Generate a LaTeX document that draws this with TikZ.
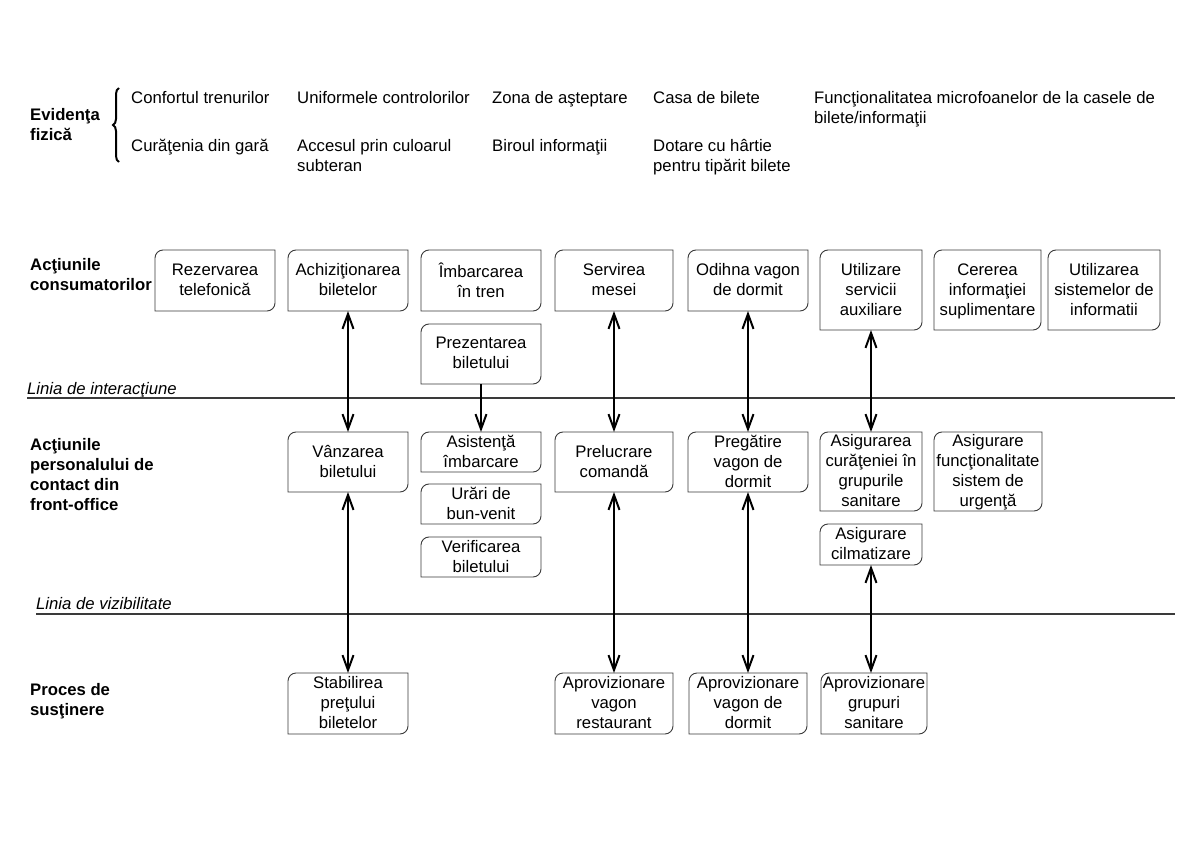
\documentclass[tikz,border=0pt]{standalone}
\usepackage{fontspec}
\setmainfont{Liberation Sans}
\usetikzlibrary{arrows.meta,decorations.pathreplacing}
\newcommand\bxfont{\fontsize{16.7}{20}\selectfont}
\newcommand\topstrut{\rule{0pt}{15.5pt}}
\newcommand\botstrut{\rule[-6.5pt]{0pt}{6.5pt}}
\definecolor{outl}{HTML}{3A3A3A}
\begin{document}
\begin{tikzpicture}[x=1pt,y=1pt,
  bx/.style 2 args={minimum width=#1pt, minimum height=#2pt, inner sep=0pt, outer sep=0pt},
  lbl/.style={align=center, font=\bxfont, inner sep=0pt, text=black, yshift=-2.5pt,
    execute at begin node=\topstrut, execute at end node=\botstrut},
  sect/.style={align=left, font=\bxfont\bfseries, inner sep=0pt, anchor=north west,
    execute at begin node=\topstrut},
  ev/.style={align=left, font=\bxfont, inner sep=0pt, anchor=north west,
    execute at begin node=\topstrut},
  lineLabel/.style={font=\bxfont\itshape, inner sep=0pt, anchor=base west},
  hline/.style={line width=1.1pt, color=outl},
  boxline/.style={line width=0.9pt, color=outl},
  arr/.style={line width=2pt, black, >={Straight Barb[length=15pt,width=11pt]}}
]
\useasboundingbox (0,0) rectangle (1200,-848);

% ---------- Evidenta fizica ----------
\node[sect] (evid) at (30,-108) {Eviden\c{t}a\\fizic\u{a}};
\coordinate (brb) at (119,-162);
\coordinate (brt) at (119,-88);
\draw[line width=2pt, decorate, decoration={brace, amplitude=6pt}] (brb) -- (brt);

\node[ev] (e1) at (131,-87.5) {Confortul trenurilor};
\node[ev] (e2) at (297,-87.5) {Uniformele controlorilor};
\node[ev] (e3) at (492,-87.5) {Zona de a\c{s}teptare};
\node[ev] (e4) at (653,-87.5) {Casa de bilete};
\node[ev] (e5) at (814,-91.5) {Func\c{t}ionalitatea microfoanelor de la casele de\\bilete/informa\c{t}ii};
\node[ev] (e6) at (131,-135.5) {Cur\u{a}\c{t}enia din gar\u{a}};
\node[ev] (e7) at (297,-139.5) {Accesul prin culoarul\\subteran};
\node[ev] (e8) at (492,-135.5) {Biroul informa\c{t}ii};
\node[ev] (e9) at (653,-139.5) {Dotare cu h\^{a}rtie\\pentru tip\u{a}rit bilete};

% ---------- section labels ----------
\node[sect] (s1) at (30,-258.5) {Ac\c{t}iunile\\consumatorilor};
\node[sect] (s2) at (30,-438.5) {Ac\c{t}iunile\\personalului de\\contact din\\front-office};
\node[sect] (s3) at (30,-683) {Proces de\\sus\c{t}inere};

% ---------- lines ----------
\node[lineLabel] (li) at (27,-394) {Linia de interac\c{t}iune};
\coordinate (l1a) at (27,-398);
\coordinate (l1b) at (1175,-398);
\draw[hline] (l1a) -- (l1b);
\node[lineLabel] (lv) at (36,-609) {Linia de vizibilitate};
\coordinate (l2a) at (36,-614);
\coordinate (l2b) at (1175,-614);
\draw[hline] (l2a) -- (l2b);

% ---------- row 1 ----------
\node[bx={120}{61}, label={[lbl]center:Rezervarea\\telefonic\u{a}}] (rez) at (215,-280.5) {};
\node[bx={120}{61}, label={[lbl]center:Achizi\c{t}ionarea\\biletelor}] (ach) at (348,-280.5) {};
\node[bx={120}{61}, label={[lbl]center:\^{I}mbarcarea\\\^{i}n tren}] (imb) at (481,-280.5) {};
\node[bx={118}{61}, label={[lbl]center:Servirea\\mesei}] (serv) at (614,-280.5) {};
\node[bx={120}{61}, label={[lbl]center:Odihna vagon\\de dormit}] (odih) at (748,-280.5) {};
\node[bx={102}{80}, label={[lbl]center:Utilizare\\servicii\\auxiliare}] (util) at (871,-290) {};
\node[bx={107}{80}, label={[lbl]center:Cererea\\informa\c{t}iei\\suplimentare}] (cer) at (987.5,-290) {};
\node[bx={112}{80}, label={[lbl]center:Utilizarea\\sistemelor de\\informatii}] (sist) at (1104,-290) {};
\node[bx={120}{60}, label={[lbl]center:Prezentarea\\biletului}] (prez) at (481,-354) {};

% ---------- row 2 ----------
\node[bx={120}{60}, label={[lbl]center:V\^{a}nzarea\\biletului}] (vanz) at (348,-462) {};
\node[bx={120}{40}, label={[lbl]center:Asisten\c{t}\u{a}\\\^{i}mbarcare}] (asist) at (481,-452) {};
\node[bx={120}{40}, label={[lbl]center:Ur\u{a}ri de\\bun-venit}] (urari) at (481,-504) {};
\node[bx={120}{40}, label={[lbl]center:Verificarea\\biletului}] (verif) at (481,-557) {};
\node[bx={118}{60}, label={[lbl]center:Prelucrare\\comand\u{a}}] (prel) at (614,-462) {};
\node[bx={120}{60}, label={[lbl]center:Preg\u{a}tire\\vagon de\\dormit}] (preg) at (748,-462) {};
\node[bx={102}{79}, label={[lbl]center:Asigurarea\\cur\u{a}\c{t}eniei \^{i}n\\grupurile\\sanitare}] (asig) at (871,-471.5) {};
\node[bx={108}{79}, label={[lbl]center:Asigurare\\func\c{t}ionalitate\\sistem de\\urgen\c{t}\u{a}}] (func) at (988,-471.5) {};
\node[bx={102}{41}, label={[lbl]center:Asigurare\\cilmatizare}] (clim) at (871,-544.5) {};

% ---------- row 3 ----------
\node[bx={120}{61}, label={[lbl]center:Stabilirea\\pre\c{t}ului\\biletelor}] (stab) at (348,-703.5) {};
\node[bx={118}{61}, label={[lbl]center:Aprovizionare\\vagon\\restaurant}] (aprest) at (614,-703.5) {};
\node[bx={118}{61}, label={[lbl]center:Aprovizionare\\vagon de\\dormit}] (apdorm) at (748,-703.5) {};
\node[bx={106}{61}, label={[lbl]center:Aprovizionare\\grupuri\\sanitare}] (apgrup) at (874,-703.5) {};

% ---------- box outlines ----------
\foreach \n in {rez,ach,imb,serv,odih,util,cer,sist,prez,vanz,asist,urari,verif,prel,preg,asig,func,clim,stab,aprest,apdorm,apgrup}
  \draw[boxline] (\n.south west) -- ([yshift=-8pt]\n.north west)
    arc[start angle=180, end angle=90, radius=8pt] -- (\n.north east)
    -- ([yshift=8pt]\n.south east)
    arc[start angle=0, end angle=-90, radius=8pt] -- cycle;

% ---------- connectors ----------
\draw[arr, <->] (ach.south) -- (ach.south |- vanz.north);
\draw[arr, <->] (vanz.south) -- (vanz.south |- stab.north);
\draw[arr, ->] (prez.south) -- (prez.south |- asist.north);
\draw[arr, <->] (serv.south) -- (serv.south |- prel.north);
\draw[arr, <->] (prel.south) -- (prel.south |- aprest.north);
\draw[arr, <->] (odih.south) -- (odih.south |- preg.north);
\draw[arr, <->] (preg.south) -- (preg.south |- apdorm.north);
\draw[arr, <->] (util.south) -- (util.south |- asig.north);
\draw[arr, <->] (clim.south) -- (clim.south |- apgrup.north);
\end{tikzpicture}
\end{document}
